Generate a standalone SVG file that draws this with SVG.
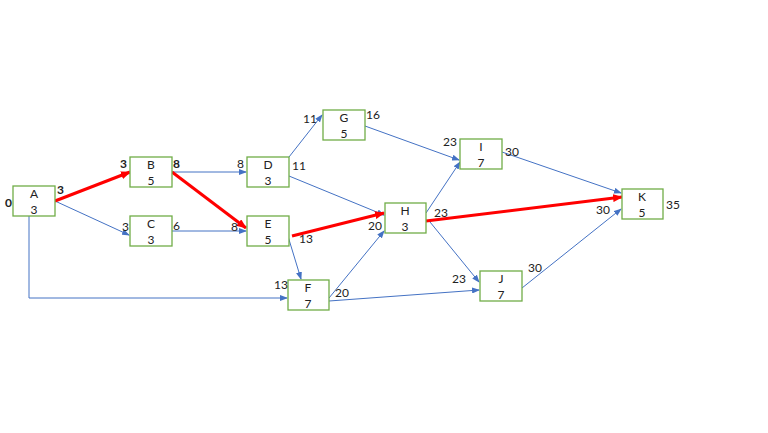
<svg xmlns="http://www.w3.org/2000/svg" width="768" height="433" viewBox="0 0 768 433">
<style>
.n rect{fill:#fff;stroke:#70ad47;stroke-width:1.3}
text{font-family:"Lato","Liberation Sans",sans-serif;font-size:12px;fill:#222}
.n text{text-anchor:middle}
.b{stroke:#4472c4;stroke-width:1;fill:none;marker-end:url(#ab)}
.r{stroke:#f00;stroke-width:3;fill:none;marker-end:url(#ar)}
.bd{font-weight:bold}
</style>
<defs>
<marker id="ab" markerWidth="8" markerHeight="6" refX="7" refY="3" orient="auto" markerUnits="userSpaceOnUse"><path d="M0,0L8,3L0,6z" fill="#4472c4"/></marker>
<marker id="ar" markerWidth="10" markerHeight="8" refX="9" refY="4" orient="auto" markerUnits="userSpaceOnUse"><path d="M0,0L10,4L0,8z" fill="#f00"/></marker>
</defs>
<rect width="768" height="433" fill="#fff"/>
<g id="connectors">
<path class="b" d="M55,201L129,235"/>
<path class="b" d="M29,216V298H287"/>
<path class="b" d="M172,172H246"/>
<path class="b" d="M172,231H246"/>
<path class="b" d="M289,157L322,115"/>
<path class="b" d="M289,176L384,215"/>
<path class="b" d="M287,233L301,279"/>
<path class="b" d="M329,298L384,231"/>
<path class="b" d="M329,301L479,290"/>
<path class="b" d="M365,126L459,160"/>
<path class="b" d="M426,213L460,162"/>
<path class="b" d="M430,222L479,282"/>
<path class="b" d="M502,152L621,193"/>
<path class="b" d="M522,288L621,209"/>
<path class="r" d="M55,201L130,172"/>
<path class="r" d="M172,172L246,228"/>
<path class="r" d="M292,236L384,213"/>
<path class="r" d="M426,221L622,197"/>
</g>
<g id="A" class="n"><rect x="13" y="186" width="42" height="30"/><text x="34" y="198">A</text><text x="34" y="214">3</text></g>
<g id="B" class="n"><rect x="130" y="157" width="42" height="30"/><text x="151" y="169">B</text><text x="151" y="185">5</text></g>
<g id="C" class="n"><rect x="130" y="216" width="42" height="30"/><text x="151" y="228">C</text><text x="151" y="244">3</text></g>
<g id="D" class="n"><rect x="247" y="157" width="42" height="30"/><text x="268" y="169">D</text><text x="268" y="185">3</text></g>
<g id="E" class="n"><rect x="247" y="216" width="42" height="30"/><text x="268" y="228">E</text><text x="268" y="244">5</text></g>
<g id="F" class="n"><rect x="288" y="280" width="41" height="30"/><text x="308" y="292">F</text><text x="308" y="308">7</text></g>
<g id="G" class="n"><rect x="323" y="110" width="42" height="30"/><text x="344" y="122">G</text><text x="344" y="138">5</text></g>
<g id="H" class="n"><rect x="385" y="203" width="41" height="30"/><text x="405" y="215">H</text><text x="405" y="231">3</text></g>
<g id="I" class="n"><rect x="460" y="139" width="42" height="30"/><text x="481" y="151">I</text><text x="481" y="167">7</text></g>
<g id="J" class="n"><rect x="480" y="271" width="42" height="30"/><text x="501" y="283">J</text><text x="501" y="299">7</text></g>
<g id="K" class="n"><rect x="622" y="189" width="41" height="30"/><text x="642" y="201">K</text><text x="642" y="217">5</text></g>
<g id="labels">
<text class="bd" x="5" y="207">0</text>
<text class="bd" x="57" y="194">3</text>
<text class="bd" x="120" y="168">3</text>
<text class="bd" x="173" y="168">8</text>
<text x="122" y="231">3</text>
<text x="173" y="230">6</text>
<text x="237" y="168">8</text>
<text x="292" y="170">11</text>
<text x="231" y="231">8</text>
<text x="299" y="243">13</text>
<text x="274" y="289">13</text>
<text x="335" y="297">20</text>
<text x="303" y="123">11</text>
<text x="366" y="119">16</text>
<text x="368" y="230">20</text>
<text x="434" y="217">23</text>
<text x="443" y="146">23</text>
<text x="505" y="156">30</text>
<text x="452" y="283">23</text>
<text x="528" y="272">30</text>
<text x="596" y="214">30</text>
<text x="666" y="209">35</text>
</g>
</svg>
